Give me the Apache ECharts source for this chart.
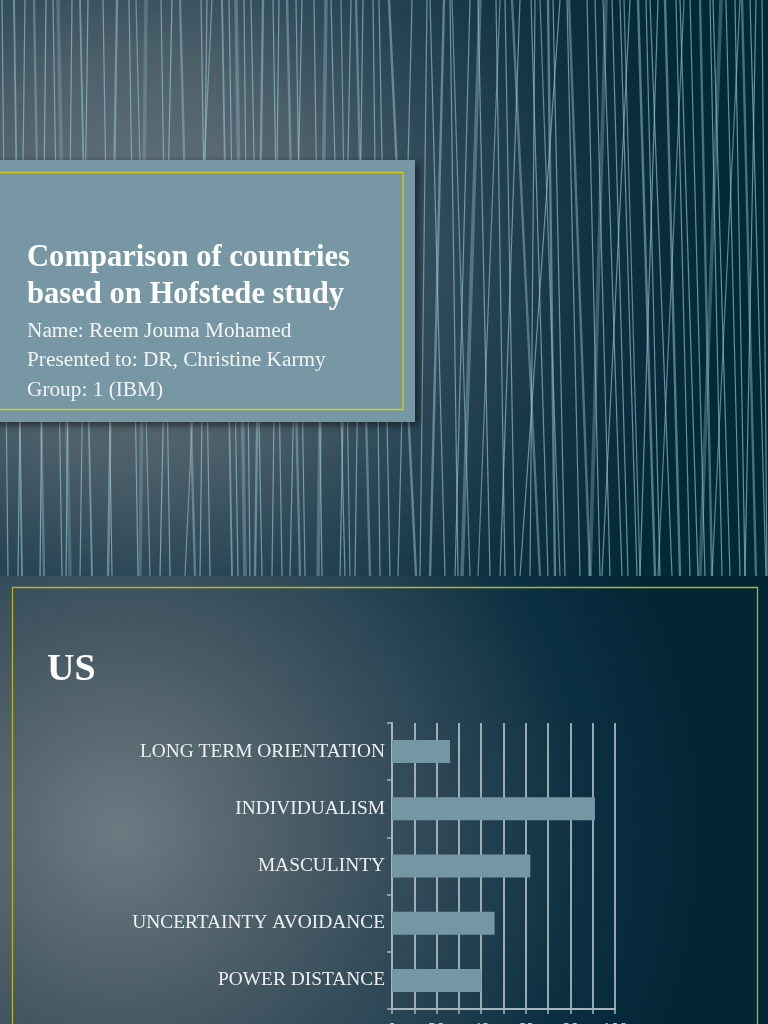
<!DOCTYPE html>
<html>
<head>
<meta charset="utf-8">
<script src="https://cdn.jsdelivr.net/npm/echarts@6/dist/echarts.min.js"></script>
<style>
html,body{margin:0;padding:0;background:#032838;overflow:hidden;}
#chart{width:768px;height:1024px;}
</style>
</head>
<body>
<div id="chart"></div>
<script>
// ---- data ----
var categories = ['POWER DISTANCE', 'UNCERTAINTY AVOIDANCE', 'MASCULINTY', 'INDIVIDUALISM', 'LONG TERM ORIENTATION'];
var usScores = [40, 46, 62, 91, 26];
var xTickLabels = [0, 20, 40, 60, 80, 100];
var chartTitle = 'US';
var slideTitle = ['Comparison of countries', 'based on Hofstede study'];
var slideSubtitle = ['Name: Reem Jouma Mohamed', 'Presented to: DR, Christine Karmy', 'Group: 1 (IBM)'];

// ---- decorative streaks of the cover slide: [xTop, xBottom, width, opacity] ----
var decorStreaks = [
 [2,8,1,.5],[14,22,1.5,.45],[25,18,1,.5],[34,44,2,.3],[46,40,1,.55],[53,62,1,.5],[58,70,3,.22],[72,66,1,.5],
 [80,92,1.5,.45],[88,80,1,.5],[103,112,1,.5],[117,108,2,.4],[129,138,1,.5],[136,150,1,.45],[146,140,3,.22],
 [161,170,1,.5],[172,160,1,.55],[180,195,2,.35],[201,210,1,.5],[207,200,1,.5],[212,185,1,.45],[222,232,1.5,.45],
 [229,238,1,.5],[236,245,3,.28],[244,250,1,.5],[251,262,1,.5],[263,255,2,.4],[273,282,1,.5],[279,272,1,.5],
 [287,300,2,.35],[296,305,1,.5],[302,290,1,.5],[314,322,1,.5],[326,318,3,.28],[331,345,1,.5],[341,350,1,.45],
 [351,340,1,.5],[356,370,2,.35],[363,355,1,.5],[373,380,1,.5],[379,390,1,.5],
 [389,416,2,.4],[412,398,1,.5],[427,420,1,.5],[430,445,1,.5],[444,430,2,.4],[450,458,1,.5],[452,470,1,.45],
 [470,455,1,.5],[478,490,1,.5],[480,462,3,.3],[496,505,1,.5],[500,478,1,.45],[505,515,1,.5],[512,540,2,.35],
 [520,500,1,.5],[531,548,1,.5],[535,530,1,.5],[540,560,1,.45],[548,555,2,.4],[553,565,1,.5],[560,520,1,.5],
 [567,580,1,.5],[569,590,2,.35],[587,600,1,.5],[595,610,1,.5],[603,622,1,.5],[606,590,3,.25],[612,628,1,.5],
 [620,637,1,.5],[624,640,1,.45],[630,602,1,.5],[638,655,2,.4],[646,660,1,.5],[650,672,1,.5],[658,640,1,.5],
 [665,680,2,.4],[676,690,1,.5],[680,698,1,.5],[684,658,1,.45],[690,705,1,.5],[700,712,2,.35],[710,722,1,.5],
 [713,730,1,.5],[721,700,3,.25],[726,740,1,.5],[735,745,1,.5],[740,712,1,.45],[742,756,2,.35],[750,766,1,.5],
 [756,745,1,.5],[762,767,1,.5]
];

var serif = '"Liberation Serif", "Times New Roman", serif';

var graphics = [];
// cover slide background
graphics.push({
  type: 'rect', z: -100, silent: true,
  shape: {x: 0, y: 0, width: 768, height: 576},
  style: {fill: {type: 'radial', x: 0.18, y: 0.45, r: 1.0, colorStops: [
    {offset: 0, color: '#6b7880'}, {offset: 0.35, color: '#4d606a'}, {offset: 0.55, color: '#2c4756'},
    {offset: 0.8, color: '#0f3243'}, {offset: 1, color: '#032838'}]}}
});
decorStreaks.forEach(function (s) {
  graphics.push({
    type: 'line', z: -90, silent: true,
    shape: {x1: s[0], y1: 0, x2: s[1], y2: 576},
    style: {stroke: 'rgba(150,192,206,' + Math.min(1, s[3] * 1.35) + ')', lineWidth: s[2] * 1.2}
  });
});
// title box
graphics.push({
  type: 'rect', z: -80, silent: true,
  shape: {x: -10, y: 160, width: 425, height: 262},
  style: {fill: '#7697a3', shadowBlur: 8, shadowOffsetX: 3, shadowOffsetY: 3, shadowColor: 'rgba(0,0,0,0.55)'}
});
graphics.push({
  type: 'rect', z: -79, silent: true,
  shape: {x: -10, y: 172.5, width: 413, height: 237},
  style: {fill: 'none', stroke: '#d6c814', lineWidth: 1.5}
});
slideTitle.forEach(function (t, i) {
  graphics.push({
    type: 'text', z: -70, silent: true, x: 27, y: 258 + i * 37,
    style: {text: t, fill: '#ffffff', font: 'bold 30.6px ' + serif, textVerticalAlign: 'middle', verticalAlign: 'middle'}
  });
});
slideSubtitle.forEach(function (t, i) {
  graphics.push({
    type: 'text', z: -70, silent: true, x: 27, y: 331 + i * 29.5,
    style: {text: t, fill: '#f2f5f6', font: '21.3px ' + serif, textVerticalAlign: 'middle', verticalAlign: 'middle'}
  });
});
// chart slide background
graphics.push({
  type: 'rect', z: -100, silent: true,
  shape: {x: 0, y: 576, width: 768, height: 448},
  style: {fill: {type: 'radial', x: 0.156, y: 0.567, r: 1.3, colorStops: [
    {offset: 0, color: '#6c7a82'}, {offset: 0.3, color: '#4a5c66'}, {offset: 0.55, color: '#2c4756'},
    {offset: 0.8, color: '#0b3042'}, {offset: 1, color: '#022636'}]}}
});
graphics.push({
  type: 'rect', z: -95, silent: true,
  shape: {x: 12.5, y: 587.5, width: 745, height: 460},
  style: {fill: 'none', stroke: '#b8b025', lineWidth: 1.3}
});
graphics.push({
  type: 'text', z: -70, silent: true, x: 47, y: 670,
  style: {text: chartTitle, fill: '#ffffff', font: 'bold 38px ' + serif, textVerticalAlign: 'middle', verticalAlign: 'middle'}
});

var chart = echarts.init(document.getElementById('chart'), null, {renderer: 'canvas'});
chart.setOption({
  animation: false,
  graphic: {elements: graphics},
  grid: {left: 392, right: 153, top: 723, bottom: 15, containLabel: false, outerBoundsMode: 'none'},
  xAxis: {
    type: 'value', min: 0, max: 100, interval: 10,
    axisLine: {show: true, lineStyle: {color: '#a9b4ba', width: 2}},
    axisTick: {show: true, length: 5, lineStyle: {color: '#a9b4ba', width: 1.5}},
    splitLine: {show: true, lineStyle: {color: '#c9d0d3', width: 1.5}},
    axisLabel: {
      color: '#e6eaec', fontSize: 17, fontFamily: serif, margin: 12,
      formatter: function (v) { return xTickLabels.indexOf(v) >= 0 ? String(v) : ''; }
    }
  },
  yAxis: {
    type: 'category', data: categories,
    axisLine: {show: true, lineStyle: {color: '#a9b4ba', width: 2}},
    axisTick: {show: true, length: 5, alignWithLabel: false, lineStyle: {color: '#a9b4ba', width: 1.5}},
    splitLine: {show: false},
    axisLabel: {color: '#eef1f2', fontSize: 19.4, fontFamily: serif, margin: 7}
  },
  series: [{
    type: 'bar', data: usScores, barWidth: 23,
    itemStyle: {color: '#7597a3'}
  }]
});
</script>
</body>
</html>
